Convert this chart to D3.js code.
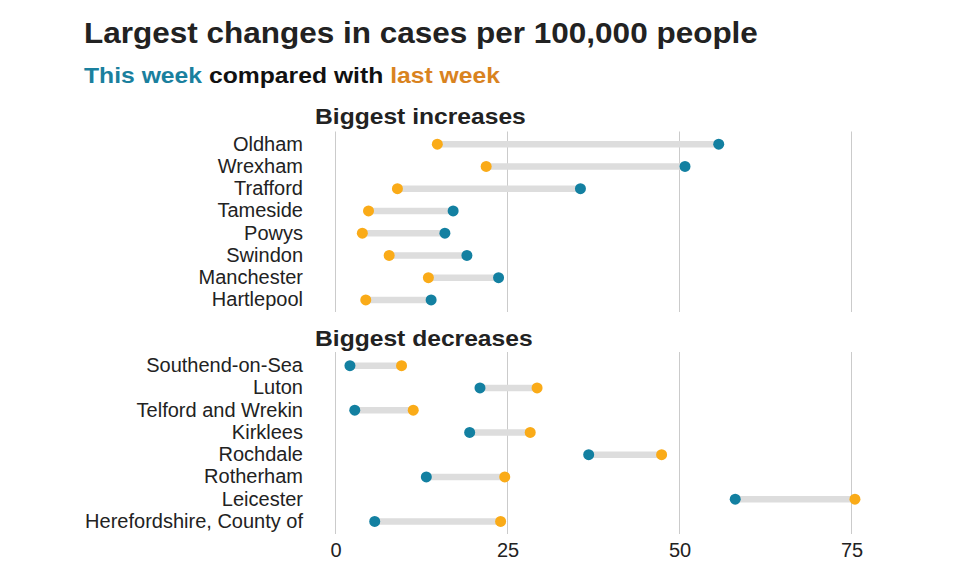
<!DOCTYPE html>
<html>
<head>
<meta charset="utf-8">
<script src="https://cdn.jsdelivr.net/npm/d3@7"></script>
<style>
  html, body { margin: 0; padding: 0; background: #fff; }
  svg { display: block; font-family: "Liberation Sans", Arial, Helvetica, sans-serif; }
</style>
</head>
<body>
<svg id="chart" width="976" height="579"></svg>
<script>
// ---- Data ----
const increaseAreas = ["Oldham", "Wrexham", "Trafford", "Tameside", "Powys", "Swindon", "Manchester", "Hartlepool"];
const increaseThisWeek = [55.7, 50.8, 35.6, 17.1, 15.9, 19.1, 23.7, 13.9];
const increaseLastWeek = [14.8, 21.9, 9.0, 4.8, 3.9, 7.8, 13.5, 4.4];

const decreaseAreas = ["Southend-on-Sea", "Luton", "Telford and Wrekin", "Kirklees", "Rochdale", "Rotherham", "Leicester", "Herefordshire, County of"];
const decreaseThisWeek = [2.1, 21.0, 2.8, 19.5, 36.8, 13.2, 58.1, 5.7];
const decreaseLastWeek = [9.6, 29.3, 11.3, 28.3, 47.4, 24.6, 75.5, 24.0];

const xTicks = [0, 25, 50, 75];

const titleText = "Largest changes in cases per 100,000 people";
const panelTitles = ["Biggest increases", "Biggest decreases"];

// ---- Styles ----
const teal = "#1380A1", orange = "#FAAB18", gray = "#dddddd", grid = "#cbcbcb";
const tealText = "#1a809e", orangeText = "#d9831f";

const svg = d3.select("#chart");

// Title & subtitle (horizontally widened to match the reference typeface)
svg.append("text").attr("transform", "translate(84,43) scale(1.05,1)")
  .attr("font-size", 30).attr("font-weight", "bold").attr("fill", "#222")
  .text(titleText);

const sub = svg.append("text").attr("transform", "translate(84,83) scale(1.075,1)")
  .attr("font-size", 23).attr("font-weight", "bold").attr("fill", "#111");
sub.append("tspan").attr("fill", tealText).text("This week");
sub.append("tspan").text(" compared with ");
sub.append("tspan").attr("fill", orangeText).text("last week");

const x = d3.scaleLinear().domain([0, 75]).range([335.5, 851.5]);

const panels = [
  { title: panelTitles[0], areas: increaseAreas, thisW: increaseThisWeek, lastW: increaseLastWeek, top: 133, bottom: 311, titleY: 123.5, gTop: 131.5, gBottom: 312 },
  { title: panelTitles[1], areas: decreaseAreas, thisW: decreaseThisWeek, lastW: decreaseLastWeek, top: 354.5, bottom: 532.5, titleY: 345.5, gTop: 352, gBottom: 534 }
];

panels.forEach(p => {
  const y = d3.scaleBand().domain(p.areas).range([p.top, p.bottom]).padding(0);
  const g = svg.append("g");

  // grid lines
  g.selectAll("line.grid").data(xTicks).join("line")
    .attr("x1", d => x(d)).attr("x2", d => x(d))
    .attr("y1", p.gTop).attr("y2", p.gBottom)
    .attr("stroke", grid).attr("stroke-width", 1);

  // panel title
  g.append("text").attr("transform", `translate(315,${p.titleY}) scale(1.12,1)`)
    .attr("font-size", 22).attr("font-weight", "bold").attr("fill", "#222")
    .text(p.title);

  // y axis labels
  const yAxis = d3.axisLeft(y).tickSize(0).tickPadding(0);
  const ya = g.append("g").attr("transform", "translate(303,0)").call(yAxis);
  ya.select(".domain").remove();
  ya.selectAll("text").attr("font-size", 20).attr("fill", "#222")
    .attr("font-family", "Liberation Sans, Arial, sans-serif");

  const rows = p.areas.map((a, i) => ({ area: a, thisW: p.thisW[i], lastW: p.lastW[i] }));
  const cy = d => y(d.area) + y.bandwidth() / 2;

  g.selectAll("line.bar").data(rows).join("line")
    .attr("x1", d => x(d.thisW)).attr("x2", d => x(d.lastW))
    .attr("y1", cy).attr("y2", cy)
    .attr("stroke", gray).attr("stroke-width", 6.5);

  g.selectAll("circle.last").data(rows).join("circle")
    .attr("cx", d => x(d.lastW)).attr("cy", cy).attr("r", 5.5).attr("fill", orange);
  g.selectAll("circle.this").data(rows).join("circle")
    .attr("cx", d => x(d.thisW)).attr("cy", cy).attr("r", 5.5).attr("fill", teal);
});

// x axis
const xAxis = d3.axisBottom(x).tickValues(xTicks).tickSize(0).tickPadding(0);
const xa = svg.append("g").attr("transform", "translate(0,543)").call(xAxis);
xa.select(".domain").remove();
xa.selectAll("text").attr("font-size", 20).attr("fill", "#222")
  .attr("font-family", "Liberation Sans, Arial, sans-serif");
</script>
</body>
</html>
